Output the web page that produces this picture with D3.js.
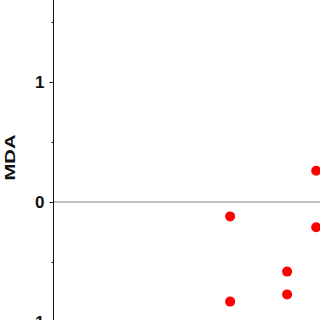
<!DOCTYPE html>
<html><head><meta charset="utf-8">
<script src="https://cdn.jsdelivr.net/npm/d3@7"></script>
<style>html,body{margin:0;padding:0;background:#fff;}svg{display:block;}</style>
</head><body>
<svg id="c" width="320" height="320"></svg>
<script>
const xValues = [4.6, 3.09, 4.6, 4.09, 4.09, 3.09];
const mdaValues = [0.26, -0.12, -0.21, -0.58, -0.77, -0.83];
const majorTicks = [-1, 0, 1];
const minorTicks = [-0.5, 0.5, 1.5];
const yLabel = "MDA";

const svg = d3.select("#c");
const x = d3.scaleLinear().domain([0, 5]).range([54, 339]);
const y = d3.scaleLinear().domain([-1, 1]).range([322, 82]);

svg.append("line")
  .attr("x1", 54).attr("x2", 320)
  .attr("y1", y(0)).attr("y2", y(0))
  .attr("stroke", "#aaa").attr("stroke-width", 1.4);

const ax = svg.append("g").attr("transform", "translate(53.5,0)")
  .call(d3.axisLeft(y).tickValues(majorTicks).tickSize(4).tickPadding(5).tickFormat(d3.format("d")));
ax.select(".domain").remove();
ax.selectAll(".tick text").attr("font-family", "Liberation Sans, Arial, sans-serif")
  .attr("font-weight", "bold").attr("font-size", 17).attr("fill", "#111");
ax.selectAll(".tick line").attr("stroke", "#111");

const mi = svg.append("g").attr("transform", "translate(53.5,0)")
  .call(d3.axisLeft(y).tickValues(minorTicks).tickSize(2).tickFormat(""));
mi.select(".domain").remove();
mi.selectAll(".tick line").attr("stroke", "#111");

svg.append("line").attr("x1", 53.5).attr("x2", 53.5).attr("y1", 0).attr("y2", 320)
  .attr("stroke", "#111").attr("stroke-width", 1);

svg.append("text")
  .attr("transform", "translate(15,157.5) rotate(-90)")
  .attr("text-anchor", "middle")
  .attr("font-family", "Liberation Sans, Arial, sans-serif")
  .attr("font-weight", "bold").attr("font-size", 15)
  .attr("textLength", 46).attr("lengthAdjust", "spacingAndGlyphs")
  .attr("fill", "#111")
  .text(yLabel);

svg.append("g").selectAll("circle")
  .data(mdaValues.map((v, i) => ({x: xValues[i], y: v})))
  .join("circle")
  .attr("cx", d => x(d.x)).attr("cy", d => y(d.y)).attr("r", 5)
  .attr("fill", "#f00");
</script>
</body></html>
